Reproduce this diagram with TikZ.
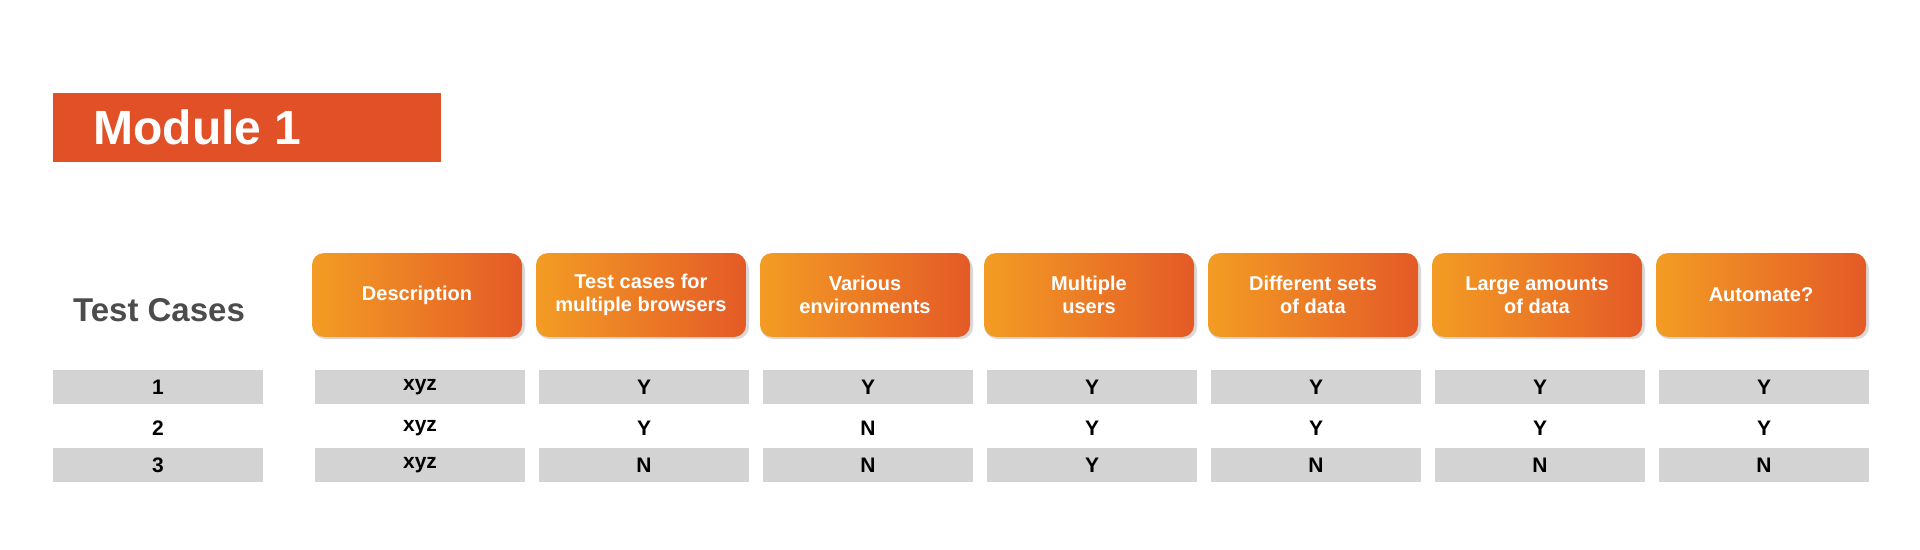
\documentclass[tikz,border=0pt]{standalone}
\usepackage{fontspec}
\setmainfont{Liberation Sans}
\begin{document}
\begin{tikzpicture}[x=1pt,y=-1pt,
  hdr/.style={rounded corners=12pt,left color=orhi,right color=orlo,minimum width=210pt,minimum height=84pt,text=white,font=\bfseries\fontsize{20}{23}\selectfont,align=center,inner sep=0pt},
  cell/.style={fill=grayc,minimum width=210pt,minimum height=34pt,inner sep=0pt,font=\bfseries\fontsize{21}{24}\selectfont},
  pcell/.style={minimum width=210pt,minimum height=34pt,inner sep=0pt,font=\bfseries\fontsize{21}{24}\selectfont}]
\definecolor{orhi}{HTML}{F39C24}
\definecolor{orlo}{HTML}{E45A26}
\definecolor{modc}{HTML}{E15026}
\definecolor{grayc}{HTML}{D3D3D3}
\useasboundingbox (0,0) rectangle (1920,549);
\node[fill=modc,minimum width=388pt,minimum height=69pt,inner sep=0pt] (mod) at (247,127.5) {};
\node[text=white,font=\bfseries\fontsize{48}{50}\selectfont,anchor=west] (modt) at (90,127.5) {Module 1};
\node[text=black!70,font=\bfseries\fontsize{33}{36}\selectfont] (tc) at (159,310) {Test Cases};
\foreach \i/\t in {0/Description,1/{Test cases for\\multiple browsers},2/{Various\\environments},3/{Multiple\\users},4/{Different sets\\of data},5/{Large amounts\\of data},6/{Automate?}}{
  \fill[black!15,rounded corners=12pt] (313+224*\i,257) rectangle (525+224*\i,339);
  \node[hdr] (h\i) at (417+224*\i,295) {\t};
}
\node[cell] (r1) at (158,387) {1};
\node[pcell] (r2) at (158,428) {2};
\node[cell] (r3) at (158,465) {3};
\foreach \i/\a/\b/\c in {0/xyz/xyz/xyz,1/Y/Y/N,2/Y/N/N,3/Y/Y/Y,4/Y/Y/N,5/Y/Y/N,6/Y/Y/N}{
  \node[cell] (a\i) at (420+224*\i,387) {\a};
  \node[pcell] (b\i) at (420+224*\i,428) {\b};
  \node[cell] (c\i) at (420+224*\i,465) {\c};
}
\end{tikzpicture}
\end{document}
